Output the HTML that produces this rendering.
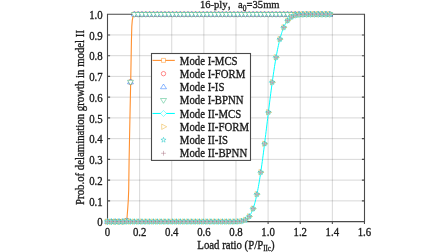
<!DOCTYPE html>
<html><head><meta charset="utf-8"><title>Prob. of delamination growth</title>
<style>html,body{margin:0;padding:0;background:#fff}svg{display:block}</style></head>
<body><svg width="448" height="252" viewBox="0 0 448 252">
<rect width="448" height="252" fill="#fff"/>
<path d="M139.62 14.20V221.60M171.74 14.20V221.60M203.86 14.20V221.60M235.98 14.20V221.60M268.10 14.20V221.60M300.22 14.20V221.60M332.34 14.20V221.60" stroke="#262626" stroke-opacity="0.18" stroke-width="1" fill="none"/>
<path d="M107.5 200.86H364.5M107.5 180.12H364.5M107.5 159.38H364.5M107.5 138.64H364.5M107.5 117.90H364.5M107.5 97.16H364.5M107.5 76.42H364.5M107.5 55.68H364.5M107.5 34.94H364.5" stroke="#262626" stroke-opacity="0.18" stroke-width="1" fill="none"/>
<path d="M107.5 14.20H364.5V221.60H107.5ZM107.50 221.60v2.3M107.50 14.20v2.4M139.62 221.60v2.3M139.62 14.20v2.4M171.74 221.60v2.3M171.74 14.20v2.4M203.86 221.60v2.3M203.86 14.20v2.4M235.98 221.60v2.3M235.98 14.20v2.4M268.10 221.60v2.3M268.10 14.20v2.4M300.22 221.60v2.3M300.22 14.20v2.4M332.34 221.60v2.3M332.34 14.20v2.4M364.46 221.60v2.3M364.46 14.20v2.4M107.5 221.60h2.6M364.5 221.60h-2.6M107.5 200.86h2.6M364.5 200.86h-2.6M107.5 180.12h2.6M364.5 180.12h-2.6M107.5 159.38h2.6M364.5 159.38h-2.6M107.5 138.64h2.6M364.5 138.64h-2.6M107.5 117.90h2.6M364.5 117.90h-2.6M107.5 97.16h2.6M364.5 97.16h-2.6M107.5 76.42h2.6M364.5 76.42h-2.6M107.5 55.68h2.6M364.5 55.68h-2.6M107.5 34.94h2.6M364.5 34.94h-2.6M107.5 14.20h2.6M364.5 14.20h-2.6" stroke="#4a4a4a" stroke-width="1.1" fill="none"/>
<path d="M107.50 221.60 L125.00 221.50 L126.20 220.20 L127.00 218.00 L127.70 209.00 L128.30 200.00 L128.70 190.00 L129.10 160.00 L129.30 150.00 L130.10 110.00 L130.70 82.00 L131.40 42.00 L131.80 26.50 L132.30 20.20 L133.10 16.30 L134.20 14.50 L135.50 14.20 L329.70 14.20" stroke="#ff8f2e" stroke-width="1.1" fill="none"/>
<g stroke="#ff8000" stroke-width="0.45" fill="#fff"><path d="M105.50 219.60h4.00v4.00h-4.00z"/><path d="M109.33 219.60h4.00v4.00h-4.00z"/><path d="M113.16 219.60h4.00v4.00h-4.00z"/><path d="M116.99 219.60h4.00v4.00h-4.00z"/><path d="M120.82 219.60h4.00v4.00h-4.00z"/><path d="M124.66 218.77h4.00v4.00h-4.00z"/><path d="M128.49 80.02h4.00v4.00h-4.00z"/><path d="M132.32 12.20h4.00v4.00h-4.00z"/><path d="M136.15 12.20h4.00v4.00h-4.00z"/><path d="M139.98 12.20h4.00v4.00h-4.00z"/><path d="M143.81 12.20h4.00v4.00h-4.00z"/><path d="M147.64 12.20h4.00v4.00h-4.00z"/><path d="M151.47 12.20h4.00v4.00h-4.00z"/><path d="M155.30 12.20h4.00v4.00h-4.00z"/><path d="M159.13 12.20h4.00v4.00h-4.00z"/><path d="M162.97 12.20h4.00v4.00h-4.00z"/><path d="M166.80 12.20h4.00v4.00h-4.00z"/><path d="M170.63 12.20h4.00v4.00h-4.00z"/><path d="M174.46 12.20h4.00v4.00h-4.00z"/><path d="M178.29 12.20h4.00v4.00h-4.00z"/><path d="M182.12 12.20h4.00v4.00h-4.00z"/><path d="M185.95 12.20h4.00v4.00h-4.00z"/><path d="M189.78 12.20h4.00v4.00h-4.00z"/><path d="M193.61 12.20h4.00v4.00h-4.00z"/><path d="M197.44 12.20h4.00v4.00h-4.00z"/><path d="M201.27 12.20h4.00v4.00h-4.00z"/><path d="M205.11 12.20h4.00v4.00h-4.00z"/><path d="M208.94 12.20h4.00v4.00h-4.00z"/><path d="M212.77 12.20h4.00v4.00h-4.00z"/><path d="M216.60 12.20h4.00v4.00h-4.00z"/><path d="M220.43 12.20h4.00v4.00h-4.00z"/><path d="M224.26 12.20h4.00v4.00h-4.00z"/><path d="M228.09 12.20h4.00v4.00h-4.00z"/><path d="M231.92 12.20h4.00v4.00h-4.00z"/><path d="M235.75 12.20h4.00v4.00h-4.00z"/><path d="M239.59 12.20h4.00v4.00h-4.00z"/><path d="M243.42 12.20h4.00v4.00h-4.00z"/><path d="M247.25 12.20h4.00v4.00h-4.00z"/><path d="M251.08 12.20h4.00v4.00h-4.00z"/><path d="M254.91 12.20h4.00v4.00h-4.00z"/><path d="M258.74 12.20h4.00v4.00h-4.00z"/><path d="M262.57 12.20h4.00v4.00h-4.00z"/><path d="M266.40 12.20h4.00v4.00h-4.00z"/><path d="M270.23 12.20h4.00v4.00h-4.00z"/><path d="M274.06 12.20h4.00v4.00h-4.00z"/><path d="M277.89 12.20h4.00v4.00h-4.00z"/><path d="M281.73 12.20h4.00v4.00h-4.00z"/><path d="M285.56 12.20h4.00v4.00h-4.00z"/><path d="M289.39 12.20h4.00v4.00h-4.00z"/><path d="M293.22 12.20h4.00v4.00h-4.00z"/><path d="M297.05 12.20h4.00v4.00h-4.00z"/><path d="M300.88 12.20h4.00v4.00h-4.00z"/><path d="M304.71 12.20h4.00v4.00h-4.00z"/><path d="M308.54 12.20h4.00v4.00h-4.00z"/><path d="M312.37 12.20h4.00v4.00h-4.00z"/><path d="M316.21 12.20h4.00v4.00h-4.00z"/><path d="M320.04 12.20h4.00v4.00h-4.00z"/><path d="M323.87 12.20h4.00v4.00h-4.00z"/><path d="M327.70 12.20h4.00v4.00h-4.00z"/></g>
<g stroke="#ff0000" stroke-width="0.45" fill="#fff"><path d="M105.30 221.60a2.2 2.2 0 1 0 4.40 0a2.2 2.2 0 1 0 -4.40 0"/><path d="M109.13 221.60a2.2 2.2 0 1 0 4.40 0a2.2 2.2 0 1 0 -4.40 0"/><path d="M112.96 221.60a2.2 2.2 0 1 0 4.40 0a2.2 2.2 0 1 0 -4.40 0"/><path d="M116.79 221.60a2.2 2.2 0 1 0 4.40 0a2.2 2.2 0 1 0 -4.40 0"/><path d="M120.62 221.60a2.2 2.2 0 1 0 4.40 0a2.2 2.2 0 1 0 -4.40 0"/><path d="M124.45 220.77a2.2 2.2 0 1 0 4.40 0a2.2 2.2 0 1 0 -4.40 0"/><path d="M128.29 82.02a2.2 2.2 0 1 0 4.40 0a2.2 2.2 0 1 0 -4.40 0"/><path d="M132.12 14.20a2.2 2.2 0 1 0 4.40 0a2.2 2.2 0 1 0 -4.40 0"/><path d="M135.95 14.20a2.2 2.2 0 1 0 4.40 0a2.2 2.2 0 1 0 -4.40 0"/><path d="M139.78 14.20a2.2 2.2 0 1 0 4.40 0a2.2 2.2 0 1 0 -4.40 0"/><path d="M143.61 14.20a2.2 2.2 0 1 0 4.40 0a2.2 2.2 0 1 0 -4.40 0"/><path d="M147.44 14.20a2.2 2.2 0 1 0 4.40 0a2.2 2.2 0 1 0 -4.40 0"/><path d="M151.27 14.20a2.2 2.2 0 1 0 4.40 0a2.2 2.2 0 1 0 -4.40 0"/><path d="M155.10 14.20a2.2 2.2 0 1 0 4.40 0a2.2 2.2 0 1 0 -4.40 0"/><path d="M158.93 14.20a2.2 2.2 0 1 0 4.40 0a2.2 2.2 0 1 0 -4.40 0"/><path d="M162.77 14.20a2.2 2.2 0 1 0 4.40 0a2.2 2.2 0 1 0 -4.40 0"/><path d="M166.60 14.20a2.2 2.2 0 1 0 4.40 0a2.2 2.2 0 1 0 -4.40 0"/><path d="M170.43 14.20a2.2 2.2 0 1 0 4.40 0a2.2 2.2 0 1 0 -4.40 0"/><path d="M174.26 14.20a2.2 2.2 0 1 0 4.40 0a2.2 2.2 0 1 0 -4.40 0"/><path d="M178.09 14.20a2.2 2.2 0 1 0 4.40 0a2.2 2.2 0 1 0 -4.40 0"/><path d="M181.92 14.20a2.2 2.2 0 1 0 4.40 0a2.2 2.2 0 1 0 -4.40 0"/><path d="M185.75 14.20a2.2 2.2 0 1 0 4.40 0a2.2 2.2 0 1 0 -4.40 0"/><path d="M189.58 14.20a2.2 2.2 0 1 0 4.40 0a2.2 2.2 0 1 0 -4.40 0"/><path d="M193.41 14.20a2.2 2.2 0 1 0 4.40 0a2.2 2.2 0 1 0 -4.40 0"/><path d="M197.24 14.20a2.2 2.2 0 1 0 4.40 0a2.2 2.2 0 1 0 -4.40 0"/><path d="M201.07 14.20a2.2 2.2 0 1 0 4.40 0a2.2 2.2 0 1 0 -4.40 0"/><path d="M204.91 14.20a2.2 2.2 0 1 0 4.40 0a2.2 2.2 0 1 0 -4.40 0"/><path d="M208.74 14.20a2.2 2.2 0 1 0 4.40 0a2.2 2.2 0 1 0 -4.40 0"/><path d="M212.57 14.20a2.2 2.2 0 1 0 4.40 0a2.2 2.2 0 1 0 -4.40 0"/><path d="M216.40 14.20a2.2 2.2 0 1 0 4.40 0a2.2 2.2 0 1 0 -4.40 0"/><path d="M220.23 14.20a2.2 2.2 0 1 0 4.40 0a2.2 2.2 0 1 0 -4.40 0"/><path d="M224.06 14.20a2.2 2.2 0 1 0 4.40 0a2.2 2.2 0 1 0 -4.40 0"/><path d="M227.89 14.20a2.2 2.2 0 1 0 4.40 0a2.2 2.2 0 1 0 -4.40 0"/><path d="M231.72 14.20a2.2 2.2 0 1 0 4.40 0a2.2 2.2 0 1 0 -4.40 0"/><path d="M235.55 14.20a2.2 2.2 0 1 0 4.40 0a2.2 2.2 0 1 0 -4.40 0"/><path d="M239.39 14.20a2.2 2.2 0 1 0 4.40 0a2.2 2.2 0 1 0 -4.40 0"/><path d="M243.22 14.20a2.2 2.2 0 1 0 4.40 0a2.2 2.2 0 1 0 -4.40 0"/><path d="M247.05 14.20a2.2 2.2 0 1 0 4.40 0a2.2 2.2 0 1 0 -4.40 0"/><path d="M250.88 14.20a2.2 2.2 0 1 0 4.40 0a2.2 2.2 0 1 0 -4.40 0"/><path d="M254.71 14.20a2.2 2.2 0 1 0 4.40 0a2.2 2.2 0 1 0 -4.40 0"/><path d="M258.54 14.20a2.2 2.2 0 1 0 4.40 0a2.2 2.2 0 1 0 -4.40 0"/><path d="M262.37 14.20a2.2 2.2 0 1 0 4.40 0a2.2 2.2 0 1 0 -4.40 0"/><path d="M266.20 14.20a2.2 2.2 0 1 0 4.40 0a2.2 2.2 0 1 0 -4.40 0"/><path d="M270.03 14.20a2.2 2.2 0 1 0 4.40 0a2.2 2.2 0 1 0 -4.40 0"/><path d="M273.86 14.20a2.2 2.2 0 1 0 4.40 0a2.2 2.2 0 1 0 -4.40 0"/><path d="M277.69 14.20a2.2 2.2 0 1 0 4.40 0a2.2 2.2 0 1 0 -4.40 0"/><path d="M281.53 14.20a2.2 2.2 0 1 0 4.40 0a2.2 2.2 0 1 0 -4.40 0"/><path d="M285.36 14.20a2.2 2.2 0 1 0 4.40 0a2.2 2.2 0 1 0 -4.40 0"/><path d="M289.19 14.20a2.2 2.2 0 1 0 4.40 0a2.2 2.2 0 1 0 -4.40 0"/><path d="M293.02 14.20a2.2 2.2 0 1 0 4.40 0a2.2 2.2 0 1 0 -4.40 0"/><path d="M296.85 14.20a2.2 2.2 0 1 0 4.40 0a2.2 2.2 0 1 0 -4.40 0"/><path d="M300.68 14.20a2.2 2.2 0 1 0 4.40 0a2.2 2.2 0 1 0 -4.40 0"/><path d="M304.51 14.20a2.2 2.2 0 1 0 4.40 0a2.2 2.2 0 1 0 -4.40 0"/><path d="M308.34 14.20a2.2 2.2 0 1 0 4.40 0a2.2 2.2 0 1 0 -4.40 0"/><path d="M312.17 14.20a2.2 2.2 0 1 0 4.40 0a2.2 2.2 0 1 0 -4.40 0"/><path d="M316.01 14.20a2.2 2.2 0 1 0 4.40 0a2.2 2.2 0 1 0 -4.40 0"/><path d="M319.84 14.20a2.2 2.2 0 1 0 4.40 0a2.2 2.2 0 1 0 -4.40 0"/><path d="M323.67 14.20a2.2 2.2 0 1 0 4.40 0a2.2 2.2 0 1 0 -4.40 0"/><path d="M327.50 14.20a2.2 2.2 0 1 0 4.40 0a2.2 2.2 0 1 0 -4.40 0"/></g>
<g stroke="#0060ff" stroke-width="0.45" fill="#fff"><path d="M107.50 218.70L110.50 223.40L104.50 223.40z"/><path d="M111.33 218.70L114.33 223.40L108.33 223.40z"/><path d="M115.16 218.70L118.16 223.40L112.16 223.40z"/><path d="M118.99 218.70L121.99 223.40L115.99 223.40z"/><path d="M122.82 218.70L125.82 223.40L119.82 223.40z"/><path d="M126.66 217.87L129.66 222.57L123.66 222.57z"/><path d="M130.49 79.12L133.49 83.82L127.49 83.82z"/><path d="M134.32 11.30L137.32 16.00L131.32 16.00z"/><path d="M138.15 11.30L141.15 16.00L135.15 16.00z"/><path d="M141.98 11.30L144.98 16.00L138.98 16.00z"/><path d="M145.81 11.30L148.81 16.00L142.81 16.00z"/><path d="M149.64 11.30L152.64 16.00L146.64 16.00z"/><path d="M153.47 11.30L156.47 16.00L150.47 16.00z"/><path d="M157.30 11.30L160.30 16.00L154.30 16.00z"/><path d="M161.13 11.30L164.13 16.00L158.13 16.00z"/><path d="M164.97 11.30L167.97 16.00L161.97 16.00z"/><path d="M168.80 11.30L171.80 16.00L165.80 16.00z"/><path d="M172.63 11.30L175.63 16.00L169.63 16.00z"/><path d="M176.46 11.30L179.46 16.00L173.46 16.00z"/><path d="M180.29 11.30L183.29 16.00L177.29 16.00z"/><path d="M184.12 11.30L187.12 16.00L181.12 16.00z"/><path d="M187.95 11.30L190.95 16.00L184.95 16.00z"/><path d="M191.78 11.30L194.78 16.00L188.78 16.00z"/><path d="M195.61 11.30L198.61 16.00L192.61 16.00z"/><path d="M199.44 11.30L202.44 16.00L196.44 16.00z"/><path d="M203.27 11.30L206.27 16.00L200.27 16.00z"/><path d="M207.11 11.30L210.11 16.00L204.11 16.00z"/><path d="M210.94 11.30L213.94 16.00L207.94 16.00z"/><path d="M214.77 11.30L217.77 16.00L211.77 16.00z"/><path d="M218.60 11.30L221.60 16.00L215.60 16.00z"/><path d="M222.43 11.30L225.43 16.00L219.43 16.00z"/><path d="M226.26 11.30L229.26 16.00L223.26 16.00z"/><path d="M230.09 11.30L233.09 16.00L227.09 16.00z"/><path d="M233.92 11.30L236.92 16.00L230.92 16.00z"/><path d="M237.75 11.30L240.75 16.00L234.75 16.00z"/><path d="M241.59 11.30L244.59 16.00L238.59 16.00z"/><path d="M245.42 11.30L248.42 16.00L242.42 16.00z"/><path d="M249.25 11.30L252.25 16.00L246.25 16.00z"/><path d="M253.08 11.30L256.08 16.00L250.08 16.00z"/><path d="M256.91 11.30L259.91 16.00L253.91 16.00z"/><path d="M260.74 11.30L263.74 16.00L257.74 16.00z"/><path d="M264.57 11.30L267.57 16.00L261.57 16.00z"/><path d="M268.40 11.30L271.40 16.00L265.40 16.00z"/><path d="M272.23 11.30L275.23 16.00L269.23 16.00z"/><path d="M276.06 11.30L279.06 16.00L273.06 16.00z"/><path d="M279.89 11.30L282.89 16.00L276.89 16.00z"/><path d="M283.73 11.30L286.73 16.00L280.73 16.00z"/><path d="M287.56 11.30L290.56 16.00L284.56 16.00z"/><path d="M291.39 11.30L294.39 16.00L288.39 16.00z"/><path d="M295.22 11.30L298.22 16.00L292.22 16.00z"/><path d="M299.05 11.30L302.05 16.00L296.05 16.00z"/><path d="M302.88 11.30L305.88 16.00L299.88 16.00z"/><path d="M306.71 11.30L309.71 16.00L303.71 16.00z"/><path d="M310.54 11.30L313.54 16.00L307.54 16.00z"/><path d="M314.37 11.30L317.37 16.00L311.37 16.00z"/><path d="M318.21 11.30L321.21 16.00L315.21 16.00z"/><path d="M322.04 11.30L325.04 16.00L319.04 16.00z"/><path d="M325.87 11.30L328.87 16.00L322.87 16.00z"/><path d="M329.70 11.30L332.70 16.00L326.70 16.00z"/></g>
<g stroke="#20b070" stroke-width="0.45" fill="#fff"><path d="M107.50 224.70L110.50 219.90L104.50 219.90z"/><path d="M111.33 224.70L114.33 219.90L108.33 219.90z"/><path d="M115.16 224.70L118.16 219.90L112.16 219.90z"/><path d="M118.99 224.70L121.99 219.90L115.99 219.90z"/><path d="M122.82 224.70L125.82 219.90L119.82 219.90z"/><path d="M126.66 223.87L129.66 219.07L123.66 219.07z"/><path d="M130.49 85.12L133.49 80.32L127.49 80.32z"/><path d="M134.32 17.30L137.32 12.50L131.32 12.50z"/><path d="M138.15 17.30L141.15 12.50L135.15 12.50z"/><path d="M141.98 17.30L144.98 12.50L138.98 12.50z"/><path d="M145.81 17.30L148.81 12.50L142.81 12.50z"/><path d="M149.64 17.30L152.64 12.50L146.64 12.50z"/><path d="M153.47 17.30L156.47 12.50L150.47 12.50z"/><path d="M157.30 17.30L160.30 12.50L154.30 12.50z"/><path d="M161.13 17.30L164.13 12.50L158.13 12.50z"/><path d="M164.97 17.30L167.97 12.50L161.97 12.50z"/><path d="M168.80 17.30L171.80 12.50L165.80 12.50z"/><path d="M172.63 17.30L175.63 12.50L169.63 12.50z"/><path d="M176.46 17.30L179.46 12.50L173.46 12.50z"/><path d="M180.29 17.30L183.29 12.50L177.29 12.50z"/><path d="M184.12 17.30L187.12 12.50L181.12 12.50z"/><path d="M187.95 17.30L190.95 12.50L184.95 12.50z"/><path d="M191.78 17.30L194.78 12.50L188.78 12.50z"/><path d="M195.61 17.30L198.61 12.50L192.61 12.50z"/><path d="M199.44 17.30L202.44 12.50L196.44 12.50z"/><path d="M203.27 17.30L206.27 12.50L200.27 12.50z"/><path d="M207.11 17.30L210.11 12.50L204.11 12.50z"/><path d="M210.94 17.30L213.94 12.50L207.94 12.50z"/><path d="M214.77 17.30L217.77 12.50L211.77 12.50z"/><path d="M218.60 17.30L221.60 12.50L215.60 12.50z"/><path d="M222.43 17.30L225.43 12.50L219.43 12.50z"/><path d="M226.26 17.30L229.26 12.50L223.26 12.50z"/><path d="M230.09 17.30L233.09 12.50L227.09 12.50z"/><path d="M233.92 17.30L236.92 12.50L230.92 12.50z"/><path d="M237.75 17.30L240.75 12.50L234.75 12.50z"/><path d="M241.59 17.30L244.59 12.50L238.59 12.50z"/><path d="M245.42 17.30L248.42 12.50L242.42 12.50z"/><path d="M249.25 17.30L252.25 12.50L246.25 12.50z"/><path d="M253.08 17.30L256.08 12.50L250.08 12.50z"/><path d="M256.91 17.30L259.91 12.50L253.91 12.50z"/><path d="M260.74 17.30L263.74 12.50L257.74 12.50z"/><path d="M264.57 17.30L267.57 12.50L261.57 12.50z"/><path d="M268.40 17.30L271.40 12.50L265.40 12.50z"/><path d="M272.23 17.30L275.23 12.50L269.23 12.50z"/><path d="M276.06 17.30L279.06 12.50L273.06 12.50z"/><path d="M279.89 17.30L282.89 12.50L276.89 12.50z"/><path d="M283.73 17.30L286.73 12.50L280.73 12.50z"/><path d="M287.56 17.30L290.56 12.50L284.56 12.50z"/><path d="M291.39 17.30L294.39 12.50L288.39 12.50z"/><path d="M295.22 17.30L298.22 12.50L292.22 12.50z"/><path d="M299.05 17.30L302.05 12.50L296.05 12.50z"/><path d="M302.88 17.30L305.88 12.50L299.88 12.50z"/><path d="M306.71 17.30L309.71 12.50L303.71 12.50z"/><path d="M310.54 17.30L313.54 12.50L307.54 12.50z"/><path d="M314.37 17.30L317.37 12.50L311.37 12.50z"/><path d="M318.21 17.30L321.21 12.50L315.21 12.50z"/><path d="M322.04 17.30L325.04 12.50L319.04 12.50z"/><path d="M325.87 17.30L328.87 12.50L322.87 12.50z"/><path d="M329.70 17.30L332.70 12.50L326.70 12.50z"/></g>
<path d="M107.50 221.60 L107.88 221.60 L108.27 221.60 L108.65 221.60 L109.03 221.60 L109.42 221.60 L109.80 221.60 L110.18 221.60 L110.56 221.60 L110.95 221.60 L111.33 221.60 L111.71 221.60 L112.10 221.60 L112.48 221.60 L112.86 221.60 L113.25 221.60 L113.63 221.60 L114.01 221.60 L114.40 221.60 L114.78 221.60 L115.16 221.60 L115.55 221.60 L115.93 221.60 L116.31 221.60 L116.69 221.60 L117.08 221.60 L117.46 221.60 L117.84 221.60 L118.23 221.60 L118.61 221.60 L118.99 221.60 L119.38 221.60 L119.76 221.60 L120.14 221.60 L120.53 221.60 L120.91 221.60 L121.29 221.60 L121.67 221.60 L122.06 221.60 L122.44 221.60 L122.82 221.60 L123.21 221.60 L123.59 221.60 L123.97 221.60 L124.36 221.60 L124.74 221.60 L125.12 221.60 L125.51 221.60 L125.89 221.60 L126.27 221.60 L126.66 221.60 L127.04 221.60 L127.42 221.60 L127.80 221.60 L128.19 221.60 L128.57 221.60 L128.95 221.60 L129.34 221.60 L129.72 221.60 L130.10 221.60 L130.49 221.60 L130.87 221.60 L131.25 221.60 L131.64 221.60 L132.02 221.60 L132.40 221.60 L132.78 221.60 L133.17 221.60 L133.55 221.60 L133.93 221.60 L134.32 221.60 L134.70 221.60 L135.08 221.60 L135.47 221.60 L135.85 221.60 L136.23 221.60 L136.62 221.60 L137.00 221.60 L137.38 221.60 L137.76 221.60 L138.15 221.60 L138.53 221.60 L138.91 221.60 L139.30 221.60 L139.68 221.60 L140.06 221.60 L140.45 221.60 L140.83 221.60 L141.21 221.60 L141.60 221.60 L141.98 221.60 L142.36 221.60 L142.75 221.60 L143.13 221.60 L143.51 221.60 L143.89 221.60 L144.28 221.60 L144.66 221.60 L145.04 221.60 L145.43 221.60 L145.81 221.60 L146.19 221.60 L146.58 221.60 L146.96 221.60 L147.34 221.60 L147.73 221.60 L148.11 221.60 L148.49 221.60 L148.87 221.60 L149.26 221.60 L149.64 221.60 L150.02 221.60 L150.41 221.60 L150.79 221.60 L151.17 221.60 L151.56 221.60 L151.94 221.60 L152.32 221.60 L152.71 221.60 L153.09 221.60 L153.47 221.60 L153.86 221.60 L154.24 221.60 L154.62 221.60 L155.00 221.60 L155.39 221.60 L155.77 221.60 L156.15 221.60 L156.54 221.60 L156.92 221.60 L157.30 221.60 L157.69 221.60 L158.07 221.60 L158.45 221.60 L158.84 221.60 L159.22 221.60 L159.60 221.60 L159.98 221.60 L160.37 221.60 L160.75 221.60 L161.13 221.60 L161.52 221.60 L161.90 221.60 L162.28 221.60 L162.67 221.60 L163.05 221.60 L163.43 221.60 L163.82 221.60 L164.20 221.60 L164.58 221.60 L164.97 221.60 L165.35 221.60 L165.73 221.60 L166.11 221.60 L166.50 221.60 L166.88 221.60 L167.26 221.60 L167.65 221.60 L168.03 221.60 L168.41 221.60 L168.80 221.60 L169.18 221.60 L169.56 221.60 L169.95 221.60 L170.33 221.60 L170.71 221.60 L171.09 221.60 L171.48 221.60 L171.86 221.60 L172.24 221.60 L172.63 221.60 L173.01 221.60 L173.39 221.60 L173.78 221.60 L174.16 221.60 L174.54 221.60 L174.93 221.60 L175.31 221.60 L175.69 221.60 L176.07 221.60 L176.46 221.60 L176.84 221.60 L177.22 221.60 L177.61 221.60 L177.99 221.60 L178.37 221.60 L178.76 221.60 L179.14 221.60 L179.52 221.60 L179.91 221.60 L180.29 221.60 L180.67 221.60 L181.06 221.60 L181.44 221.60 L181.82 221.60 L182.20 221.60 L182.59 221.60 L182.97 221.60 L183.35 221.60 L183.74 221.60 L184.12 221.60 L184.50 221.60 L184.89 221.60 L185.27 221.60 L185.65 221.60 L186.04 221.60 L186.42 221.60 L186.80 221.60 L187.18 221.60 L187.57 221.60 L187.95 221.60 L188.33 221.60 L188.72 221.60 L189.10 221.60 L189.48 221.60 L189.87 221.60 L190.25 221.60 L190.63 221.60 L191.02 221.60 L191.40 221.60 L191.78 221.60 L192.17 221.60 L192.55 221.60 L192.93 221.60 L193.31 221.60 L193.70 221.60 L194.08 221.60 L194.46 221.60 L194.85 221.60 L195.23 221.60 L195.61 221.60 L196.00 221.60 L196.38 221.60 L196.76 221.60 L197.15 221.60 L197.53 221.60 L197.91 221.60 L198.29 221.60 L198.68 221.60 L199.06 221.60 L199.44 221.60 L199.83 221.60 L200.21 221.60 L200.59 221.60 L200.98 221.60 L201.36 221.60 L201.74 221.60 L202.13 221.60 L202.51 221.60 L202.89 221.60 L203.27 221.60 L203.66 221.60 L204.04 221.60 L204.42 221.60 L204.81 221.60 L205.19 221.60 L205.57 221.60 L205.96 221.60 L206.34 221.60 L206.72 221.60 L207.11 221.60 L207.49 221.60 L207.87 221.60 L208.26 221.60 L208.64 221.60 L209.02 221.60 L209.40 221.60 L209.79 221.60 L210.17 221.60 L210.55 221.60 L210.94 221.60 L211.32 221.60 L211.70 221.60 L212.09 221.60 L212.47 221.60 L212.85 221.60 L213.24 221.60 L213.62 221.60 L214.00 221.60 L214.38 221.60 L214.77 221.60 L215.15 221.60 L215.53 221.60 L215.92 221.60 L216.30 221.60 L216.68 221.60 L217.07 221.60 L217.45 221.60 L217.83 221.60 L218.22 221.60 L218.60 221.60 L218.98 221.60 L219.37 221.60 L219.75 221.60 L220.13 221.60 L220.51 221.60 L220.90 221.60 L221.28 221.60 L221.66 221.60 L222.05 221.60 L222.43 221.60 L222.81 221.60 L223.20 221.60 L223.58 221.60 L223.96 221.60 L224.35 221.60 L224.73 221.60 L225.11 221.60 L225.49 221.60 L225.88 221.60 L226.26 221.60 L226.64 221.60 L227.03 221.60 L227.41 221.60 L227.79 221.60 L228.18 221.60 L228.56 221.60 L228.94 221.60 L229.33 221.60 L229.71 221.60 L230.09 221.60 L230.48 221.60 L230.86 221.60 L231.24 221.60 L231.62 221.60 L232.01 221.59 L232.39 221.59 L232.77 221.59 L233.16 221.59 L233.54 221.59 L233.92 221.58 L234.31 221.58 L234.69 221.58 L235.07 221.57 L235.46 221.57 L235.84 221.56 L236.22 221.55 L236.60 221.54 L236.99 221.53 L237.37 221.52 L237.75 221.51 L238.14 221.49 L238.52 221.47 L238.90 221.45 L239.29 221.42 L239.67 221.39 L240.05 221.35 L240.44 221.31 L240.82 221.26 L241.20 221.21 L241.58 221.15 L241.97 221.08 L242.35 221.00 L242.73 220.91 L243.12 220.81 L243.50 220.70 L243.88 220.58 L244.27 220.43 L244.65 220.28 L245.03 220.10 L245.42 219.91 L245.80 219.69 L246.18 219.45 L246.57 219.18 L246.95 218.89 L247.33 218.57 L247.71 218.22 L248.10 217.83 L248.48 217.41 L248.86 216.95 L249.25 216.44 L249.63 215.90 L250.01 215.31 L250.40 214.67 L250.78 213.98 L251.16 213.24 L251.55 212.45 L251.93 211.59 L252.31 210.68 L252.69 209.70 L253.08 208.66 L253.46 207.56 L253.84 206.38 L254.23 205.13 L254.61 203.82 L254.99 202.42 L255.38 200.96 L255.76 199.41 L256.14 197.79 L256.53 196.09 L256.91 194.31 L257.29 192.46 L257.68 190.52 L258.06 188.51 L258.44 186.42 L258.82 184.25 L259.21 182.00 L259.59 179.68 L259.97 177.29 L260.36 174.82 L260.74 172.29 L261.12 169.68 L261.51 167.02 L261.89 164.29 L262.27 161.50 L262.66 158.66 L263.04 155.77 L263.42 152.83 L263.80 149.85 L264.19 146.83 L264.57 143.77 L264.95 140.68 L265.34 137.57 L265.72 134.43 L266.10 131.28 L266.49 128.11 L266.87 124.94 L267.25 121.77 L267.64 118.59 L268.02 115.43 L268.40 112.27 L268.79 109.13 L269.17 106.01 L269.55 102.92 L269.93 99.85 L270.32 96.81 L270.70 93.82 L271.08 90.86 L271.47 87.94 L271.85 85.08 L272.23 82.26 L272.62 79.49 L273.00 76.78 L273.38 74.13 L273.77 71.54 L274.15 69.01 L274.53 66.54 L274.91 64.14 L275.30 61.81 L275.68 59.54 L276.06 57.34 L276.45 55.21 L276.83 53.15 L277.21 51.16 L277.60 49.24 L277.98 47.39 L278.36 45.61 L278.75 43.90 L279.13 42.25 L279.51 40.67 L279.89 39.16 L280.28 37.71 L280.66 36.33 L281.04 35.01 L281.43 33.75 L281.81 32.55 L282.19 31.40 L282.58 30.32 L282.96 29.29 L283.34 28.31 L283.73 27.39 L284.11 26.51 L284.49 25.68 L284.88 24.90 L285.26 24.17 L285.64 23.47 L286.02 22.82 L286.41 22.20 L286.79 21.63 L287.17 21.08 L287.56 20.58 L287.94 20.10 L288.32 19.66 L288.71 19.24 L289.09 18.86 L289.47 18.49 L289.86 18.16 L290.24 17.84 L290.62 17.55 L291.00 17.28 L291.39 17.03 L291.77 16.80 L292.15 16.58 L292.54 16.38 L292.92 16.20 L293.30 16.03 L293.69 15.87 L294.07 15.73 L294.45 15.59 L294.84 15.47 L295.22 15.36 L295.60 15.25 L295.99 15.16 L296.37 15.07 L296.75 14.99 L297.13 14.92 L297.52 14.85 L297.90 14.79 L298.28 14.74 L298.67 14.68 L299.05 14.64 L299.43 14.60 L299.82 14.56 L300.20 14.52 L300.58 14.49 L300.97 14.46 L301.35 14.44 L301.73 14.41 L302.11 14.39 L302.50 14.37 L302.88 14.35 L303.26 14.34 L303.65 14.32 L304.03 14.31 L304.41 14.30 L304.80 14.29 L305.18 14.28 L305.56 14.27 L305.95 14.26 L306.33 14.26 L306.71 14.25 L307.10 14.24 L307.48 14.24 L307.86 14.24 L308.24 14.23 L308.63 14.23 L309.01 14.22 L309.39 14.22 L309.78 14.22 L310.16 14.22 L310.54 14.22 L310.93 14.21 L311.31 14.21 L311.69 14.21 L312.08 14.21 L312.46 14.21 L312.84 14.21 L313.22 14.21 L313.61 14.21 L313.99 14.20 L314.37 14.20 L314.76 14.20 L315.14 14.20 L315.52 14.20 L315.91 14.20 L316.29 14.20 L316.67 14.20 L317.06 14.20 L317.44 14.20 L317.82 14.20 L318.20 14.20 L318.59 14.20 L318.97 14.20 L319.35 14.20 L319.74 14.20 L320.12 14.20 L320.50 14.20 L320.89 14.20 L321.27 14.20 L321.65 14.20 L322.04 14.20 L322.42 14.20 L322.80 14.20 L323.19 14.20 L323.57 14.20 L323.95 14.20 L324.33 14.20 L324.72 14.20 L325.10 14.20 L325.48 14.20 L325.87 14.20 L326.25 14.20 L326.63 14.20 L327.02 14.20 L327.40 14.20 L327.78 14.20 L328.17 14.20 L328.55 14.20 L328.93 14.20 L329.31 14.20 L329.70 14.20" stroke="#00ffff" stroke-width="1" fill="none"/>
<g stroke="#00ffff" stroke-width="0.45" fill="#fff"><path d="M107.50 218.60L110.50 221.60L107.50 224.60L104.50 221.60z"/><path d="M111.33 218.60L114.33 221.60L111.33 224.60L108.33 221.60z"/><path d="M115.16 218.60L118.16 221.60L115.16 224.60L112.16 221.60z"/><path d="M118.99 218.60L121.99 221.60L118.99 224.60L115.99 221.60z"/><path d="M122.82 218.60L125.82 221.60L122.82 224.60L119.82 221.60z"/><path d="M126.66 218.60L129.66 221.60L126.66 224.60L123.66 221.60z"/><path d="M130.49 218.60L133.49 221.60L130.49 224.60L127.49 221.60z"/><path d="M134.32 218.60L137.32 221.60L134.32 224.60L131.32 221.60z"/><path d="M138.15 218.60L141.15 221.60L138.15 224.60L135.15 221.60z"/><path d="M141.98 218.60L144.98 221.60L141.98 224.60L138.98 221.60z"/><path d="M145.81 218.60L148.81 221.60L145.81 224.60L142.81 221.60z"/><path d="M149.64 218.60L152.64 221.60L149.64 224.60L146.64 221.60z"/><path d="M153.47 218.60L156.47 221.60L153.47 224.60L150.47 221.60z"/><path d="M157.30 218.60L160.30 221.60L157.30 224.60L154.30 221.60z"/><path d="M161.13 218.60L164.13 221.60L161.13 224.60L158.13 221.60z"/><path d="M164.97 218.60L167.97 221.60L164.97 224.60L161.97 221.60z"/><path d="M168.80 218.60L171.80 221.60L168.80 224.60L165.80 221.60z"/><path d="M172.63 218.60L175.63 221.60L172.63 224.60L169.63 221.60z"/><path d="M176.46 218.60L179.46 221.60L176.46 224.60L173.46 221.60z"/><path d="M180.29 218.60L183.29 221.60L180.29 224.60L177.29 221.60z"/><path d="M184.12 218.60L187.12 221.60L184.12 224.60L181.12 221.60z"/><path d="M187.95 218.60L190.95 221.60L187.95 224.60L184.95 221.60z"/><path d="M191.78 218.60L194.78 221.60L191.78 224.60L188.78 221.60z"/><path d="M195.61 218.60L198.61 221.60L195.61 224.60L192.61 221.60z"/><path d="M199.44 218.60L202.44 221.60L199.44 224.60L196.44 221.60z"/><path d="M203.27 218.60L206.27 221.60L203.27 224.60L200.27 221.60z"/><path d="M207.11 218.60L210.11 221.60L207.11 224.60L204.11 221.60z"/><path d="M210.94 218.60L213.94 221.60L210.94 224.60L207.94 221.60z"/><path d="M214.77 218.60L217.77 221.60L214.77 224.60L211.77 221.60z"/><path d="M218.60 218.60L221.60 221.60L218.60 224.60L215.60 221.60z"/><path d="M222.43 218.60L225.43 221.60L222.43 224.60L219.43 221.60z"/><path d="M226.26 218.60L229.26 221.60L226.26 224.60L223.26 221.60z"/><path d="M230.09 218.60L233.09 221.60L230.09 224.60L227.09 221.60z"/><path d="M233.92 218.58L236.92 221.58L233.92 224.58L230.92 221.58z"/><path d="M237.75 218.51L240.75 221.51L237.75 224.51L234.75 221.51z"/><path d="M241.59 218.15L244.59 221.15L241.59 224.15L238.59 221.15z"/><path d="M245.42 216.91L248.42 219.91L245.42 222.91L242.42 219.91z"/><path d="M249.25 213.44L252.25 216.44L249.25 219.44L246.25 216.44z"/><path d="M253.08 205.66L256.08 208.66L253.08 211.66L250.08 208.66z"/><path d="M256.91 191.31L259.91 194.31L256.91 197.31L253.91 194.31z"/><path d="M260.74 169.29L263.74 172.29L260.74 175.29L257.74 172.29z"/><path d="M264.57 140.77L267.57 143.77L264.57 146.77L261.57 143.77z"/><path d="M268.40 109.27L271.40 112.27L268.40 115.27L265.40 112.27z"/><path d="M272.23 79.26L275.23 82.26L272.23 85.26L269.23 82.26z"/><path d="M276.06 54.34L279.06 57.34L276.06 60.34L273.06 57.34z"/><path d="M279.89 36.16L282.89 39.16L279.89 42.16L276.89 39.16z"/><path d="M283.73 24.39L286.73 27.39L283.73 30.39L280.73 27.39z"/><path d="M287.56 17.58L290.56 20.58L287.56 23.58L284.56 20.58z"/><path d="M291.39 14.03L294.39 17.03L291.39 20.03L288.39 17.03z"/><path d="M295.22 12.36L298.22 15.36L295.22 18.36L292.22 15.36z"/><path d="M299.05 11.64L302.05 14.64L299.05 17.64L296.05 14.64z"/><path d="M302.88 11.35L305.88 14.35L302.88 17.35L299.88 14.35z"/><path d="M306.71 11.25L309.71 14.25L306.71 17.25L303.71 14.25z"/><path d="M310.54 11.22L313.54 14.22L310.54 17.22L307.54 14.22z"/><path d="M314.37 11.20L317.37 14.20L314.37 17.20L311.37 14.20z"/><path d="M318.21 11.20L321.21 14.20L318.21 17.20L315.21 14.20z"/><path d="M322.04 11.20L325.04 14.20L322.04 17.20L319.04 14.20z"/><path d="M325.87 11.20L328.87 14.20L325.87 17.20L322.87 14.20z"/><path d="M329.70 11.20L332.70 14.20L329.70 17.20L326.70 14.20z"/></g>
<g stroke="#e8a820" stroke-width="0.45" fill="#fff"><path d="M110.70 221.60L105.70 218.90L105.70 224.30z"/><path d="M114.53 221.60L109.53 218.90L109.53 224.30z"/><path d="M118.36 221.60L113.36 218.90L113.36 224.30z"/><path d="M122.19 221.60L117.19 218.90L117.19 224.30z"/><path d="M126.02 221.60L121.02 218.90L121.02 224.30z"/><path d="M129.85 221.60L124.86 218.90L124.86 224.30z"/><path d="M133.69 221.60L128.69 218.90L128.69 224.30z"/><path d="M137.52 221.60L132.52 218.90L132.52 224.30z"/><path d="M141.35 221.60L136.35 218.90L136.35 224.30z"/><path d="M145.18 221.60L140.18 218.90L140.18 224.30z"/><path d="M149.01 221.60L144.01 218.90L144.01 224.30z"/><path d="M152.84 221.60L147.84 218.90L147.84 224.30z"/><path d="M156.67 221.60L151.67 218.90L151.67 224.30z"/><path d="M160.50 221.60L155.50 218.90L155.50 224.30z"/><path d="M164.33 221.60L159.33 218.90L159.33 224.30z"/><path d="M168.16 221.60L163.16 218.90L163.16 224.30z"/><path d="M172.00 221.60L167.00 218.90L167.00 224.30z"/><path d="M175.83 221.60L170.83 218.90L170.83 224.30z"/><path d="M179.66 221.60L174.66 218.90L174.66 224.30z"/><path d="M183.49 221.60L178.49 218.90L178.49 224.30z"/><path d="M187.32 221.60L182.32 218.90L182.32 224.30z"/><path d="M191.15 221.60L186.15 218.90L186.15 224.30z"/><path d="M194.98 221.60L189.98 218.90L189.98 224.30z"/><path d="M198.81 221.60L193.81 218.90L193.81 224.30z"/><path d="M202.64 221.60L197.64 218.90L197.64 224.30z"/><path d="M206.47 221.60L201.47 218.90L201.47 224.30z"/><path d="M210.31 221.60L205.31 218.90L205.31 224.30z"/><path d="M214.14 221.60L209.14 218.90L209.14 224.30z"/><path d="M217.97 221.60L212.97 218.90L212.97 224.30z"/><path d="M221.80 221.60L216.80 218.90L216.80 224.30z"/><path d="M225.63 221.60L220.63 218.90L220.63 224.30z"/><path d="M229.46 221.60L224.46 218.90L224.46 224.30z"/><path d="M233.29 221.60L228.29 218.90L228.29 224.30z"/><path d="M237.12 221.58L232.12 218.88L232.12 224.28z"/><path d="M240.95 221.51L235.95 218.81L235.95 224.21z"/><path d="M244.78 221.15L239.78 218.45L239.78 223.85z"/><path d="M248.62 219.91L243.62 217.21L243.62 222.61z"/><path d="M252.45 216.44L247.45 213.74L247.45 219.14z"/><path d="M256.28 208.66L251.28 205.96L251.28 211.36z"/><path d="M260.11 194.31L255.11 191.61L255.11 197.01z"/><path d="M263.94 172.29L258.94 169.59L258.94 174.99z"/><path d="M267.77 143.77L262.77 141.07L262.77 146.47z"/><path d="M271.60 112.27L266.60 109.57L266.60 114.97z"/><path d="M275.43 82.26L270.43 79.56L270.43 84.96z"/><path d="M279.26 57.34L274.26 54.64L274.26 60.04z"/><path d="M283.09 39.16L278.09 36.46L278.09 41.86z"/><path d="M286.93 27.39L281.93 24.69L281.93 30.09z"/><path d="M290.76 20.58L285.76 17.88L285.76 23.28z"/><path d="M294.59 17.03L289.59 14.33L289.59 19.73z"/><path d="M298.42 15.36L293.42 12.66L293.42 18.06z"/><path d="M302.25 14.64L297.25 11.94L297.25 17.34z"/><path d="M306.08 14.35L301.08 11.65L301.08 17.05z"/><path d="M309.91 14.25L304.91 11.55L304.91 16.95z"/><path d="M313.74 14.22L308.74 11.52L308.74 16.92z"/><path d="M317.57 14.20L312.57 11.50L312.57 16.90z"/><path d="M321.41 14.20L316.41 11.50L316.41 16.90z"/><path d="M325.24 14.20L320.24 11.50L320.24 16.90z"/><path d="M329.07 14.20L324.07 11.50L324.07 16.90z"/><path d="M332.90 14.20L327.90 11.50L327.90 16.90z"/></g>
<g stroke="#00c0c0" stroke-width="0.45" fill="#fff"><path d="M107.50 218.90L108.11 220.77L110.07 220.77L108.48 221.92L109.09 223.78L107.50 222.63L105.91 223.78L106.52 221.92L104.93 220.77L106.89 220.77z"/><path d="M111.33 218.90L111.94 220.77L113.90 220.77L112.31 221.92L112.92 223.78L111.33 222.63L109.74 223.78L110.35 221.92L108.76 220.77L110.72 220.77z"/><path d="M115.16 218.90L115.77 220.77L117.73 220.77L116.14 221.92L116.75 223.78L115.16 222.63L113.57 223.78L114.18 221.92L112.59 220.77L114.56 220.77z"/><path d="M118.99 218.90L119.60 220.77L121.56 220.77L119.97 221.92L120.58 223.78L118.99 222.63L117.41 223.78L118.01 221.92L116.43 220.77L118.39 220.77z"/><path d="M122.82 218.90L123.43 220.77L125.39 220.77L123.80 221.92L124.41 223.78L122.82 222.63L121.24 223.78L121.84 221.92L120.26 220.77L122.22 220.77z"/><path d="M126.66 218.90L127.26 220.77L129.22 220.77L127.64 221.92L128.24 223.78L126.66 222.63L125.07 223.78L125.67 221.92L124.09 220.77L126.05 220.77z"/><path d="M130.49 218.90L131.09 220.77L133.05 220.77L131.47 221.92L132.07 223.78L130.49 222.63L128.90 223.78L129.51 221.92L127.92 220.77L129.88 220.77z"/><path d="M134.32 218.90L134.92 220.77L136.88 220.77L135.30 221.92L135.90 223.78L134.32 222.63L132.73 223.78L133.34 221.92L131.75 220.77L133.71 220.77z"/><path d="M138.15 218.90L138.75 220.77L140.72 220.77L139.13 221.92L139.74 223.78L138.15 222.63L136.56 223.78L137.17 221.92L135.58 220.77L137.54 220.77z"/><path d="M141.98 218.90L142.59 220.77L144.55 220.77L142.96 221.92L143.57 223.78L141.98 222.63L140.39 223.78L141.00 221.92L139.41 220.77L141.37 220.77z"/><path d="M145.81 218.90L146.42 220.77L148.38 220.77L146.79 221.92L147.40 223.78L145.81 222.63L144.22 223.78L144.83 221.92L143.24 220.77L145.20 220.77z"/><path d="M149.64 218.90L150.25 220.77L152.21 220.77L150.62 221.92L151.23 223.78L149.64 222.63L148.05 223.78L148.66 221.92L147.07 220.77L149.03 220.77z"/><path d="M153.47 218.90L154.08 220.77L156.04 220.77L154.45 221.92L155.06 223.78L153.47 222.63L151.88 223.78L152.49 221.92L150.90 220.77L152.87 220.77z"/><path d="M157.30 218.90L157.91 220.77L159.87 220.77L158.28 221.92L158.89 223.78L157.30 222.63L155.72 223.78L156.32 221.92L154.74 220.77L156.70 220.77z"/><path d="M161.13 218.90L161.74 220.77L163.70 220.77L162.11 221.92L162.72 223.78L161.13 222.63L159.55 223.78L160.15 221.92L158.57 220.77L160.53 220.77z"/><path d="M164.97 218.90L165.57 220.77L167.53 220.77L165.95 221.92L166.55 223.78L164.97 222.63L163.38 223.78L163.98 221.92L162.40 220.77L164.36 220.77z"/><path d="M168.80 218.90L169.40 220.77L171.36 220.77L169.78 221.92L170.38 223.78L168.80 222.63L167.21 223.78L167.82 221.92L166.23 220.77L168.19 220.77z"/><path d="M172.63 218.90L173.23 220.77L175.19 220.77L173.61 221.92L174.21 223.78L172.63 222.63L171.04 223.78L171.65 221.92L170.06 220.77L172.02 220.77z"/><path d="M176.46 218.90L177.06 220.77L179.03 220.77L177.44 221.92L178.05 223.78L176.46 222.63L174.87 223.78L175.48 221.92L173.89 220.77L175.85 220.77z"/><path d="M180.29 218.90L180.90 220.77L182.86 220.77L181.27 221.92L181.88 223.78L180.29 222.63L178.70 223.78L179.31 221.92L177.72 220.77L179.68 220.77z"/><path d="M184.12 218.90L184.73 220.77L186.69 220.77L185.10 221.92L185.71 223.78L184.12 222.63L182.53 223.78L183.14 221.92L181.55 220.77L183.51 220.77z"/><path d="M187.95 218.90L188.56 220.77L190.52 220.77L188.93 221.92L189.54 223.78L187.95 222.63L186.36 223.78L186.97 221.92L185.38 220.77L187.34 220.77z"/><path d="M191.78 218.90L192.39 220.77L194.35 220.77L192.76 221.92L193.37 223.78L191.78 222.63L190.19 223.78L190.80 221.92L189.21 220.77L191.18 220.77z"/><path d="M195.61 218.90L196.22 220.77L198.18 220.77L196.59 221.92L197.20 223.78L195.61 222.63L194.03 223.78L194.63 221.92L193.05 220.77L195.01 220.77z"/><path d="M199.44 218.90L200.05 220.77L202.01 220.77L200.42 221.92L201.03 223.78L199.44 222.63L197.86 223.78L198.46 221.92L196.88 220.77L198.84 220.77z"/><path d="M203.27 218.90L203.88 220.77L205.84 220.77L204.26 221.92L204.86 223.78L203.27 222.63L201.69 223.78L202.29 221.92L200.71 220.77L202.67 220.77z"/><path d="M207.11 218.90L207.71 220.77L209.67 220.77L208.09 221.92L208.69 223.78L207.11 222.63L205.52 223.78L206.13 221.92L204.54 220.77L206.50 220.77z"/><path d="M210.94 218.90L211.54 220.77L213.50 220.77L211.92 221.92L212.52 223.78L210.94 222.63L209.35 223.78L209.96 221.92L208.37 220.77L210.33 220.77z"/><path d="M214.77 218.90L215.37 220.77L217.34 220.77L215.75 221.92L216.36 223.78L214.77 222.63L213.18 223.78L213.79 221.92L212.20 220.77L214.16 220.77z"/><path d="M218.60 218.90L219.21 220.77L221.17 220.77L219.58 221.92L220.19 223.78L218.60 222.63L217.01 223.78L217.62 221.92L216.03 220.77L217.99 220.77z"/><path d="M222.43 218.90L223.04 220.77L225.00 220.77L223.41 221.92L224.02 223.78L222.43 222.63L220.84 223.78L221.45 221.92L219.86 220.77L221.82 220.77z"/><path d="M226.26 218.90L226.87 220.77L228.83 220.77L227.24 221.92L227.85 223.78L226.26 222.63L224.67 223.78L225.28 221.92L223.69 220.77L225.65 220.77z"/><path d="M230.09 218.90L230.70 220.76L232.66 220.76L231.07 221.92L231.68 223.78L230.09 222.63L228.50 223.78L229.11 221.92L227.52 220.76L229.49 220.76z"/><path d="M233.92 218.88L234.53 220.75L236.49 220.75L234.90 221.90L235.51 223.77L233.92 222.62L232.34 223.77L232.94 221.90L231.36 220.75L233.32 220.75z"/><path d="M237.75 218.81L238.36 220.67L240.32 220.67L238.73 221.82L239.34 223.69L237.75 222.54L236.17 223.69L236.77 221.82L235.19 220.67L237.15 220.67z"/><path d="M241.59 218.45L242.19 220.32L244.15 220.32L242.57 221.47L243.17 223.33L241.59 222.18L240.00 223.33L240.60 221.47L239.02 220.32L240.98 220.32z"/><path d="M245.42 217.21L246.02 219.07L247.98 219.07L246.40 220.22L247.00 222.09L245.42 220.94L243.83 222.09L244.44 220.22L242.85 219.07L244.81 219.07z"/><path d="M249.25 213.74L249.85 215.61L251.81 215.61L250.23 216.76L250.83 218.63L249.25 217.48L247.66 218.63L248.27 216.76L246.68 215.61L248.64 215.61z"/><path d="M253.08 205.96L253.68 207.83L255.65 207.83L254.06 208.98L254.67 210.85L253.08 209.69L251.49 210.85L252.10 208.98L250.51 207.83L252.47 207.83z"/><path d="M256.91 191.61L257.52 193.48L259.48 193.48L257.89 194.63L258.50 196.50L256.91 195.35L255.32 196.50L255.93 194.63L254.34 193.48L256.30 193.48z"/><path d="M260.74 169.59L261.35 171.45L263.31 171.45L261.72 172.60L262.33 174.47L260.74 173.32L259.15 174.47L259.76 172.60L258.17 171.45L260.13 171.45z"/><path d="M264.57 141.07L265.18 142.93L267.14 142.93L265.55 144.09L266.16 145.95L264.57 144.80L262.98 145.95L263.59 144.09L262.00 142.93L263.96 142.93z"/><path d="M268.40 109.57L269.01 111.44L270.97 111.44L269.38 112.59L269.99 114.45L268.40 113.30L266.81 114.45L267.42 112.59L265.83 111.44L267.80 111.44z"/><path d="M272.23 79.56L272.84 81.42L274.80 81.42L273.21 82.58L273.82 84.44L272.23 83.29L270.65 84.44L271.25 82.58L269.67 81.42L271.63 81.42z"/><path d="M276.06 54.64L276.67 56.51L278.63 56.51L277.04 57.66L277.65 59.53L276.06 58.38L274.48 59.53L275.08 57.66L273.50 56.51L275.46 56.51z"/><path d="M279.89 36.46L280.50 38.32L282.46 38.32L280.88 39.48L281.48 41.34L279.89 40.19L278.31 41.34L278.91 39.48L277.33 38.32L279.29 38.32z"/><path d="M283.73 24.69L284.33 26.55L286.29 26.55L284.71 27.71L285.31 29.57L283.73 28.42L282.14 29.57L282.75 27.71L281.16 26.55L283.12 26.55z"/><path d="M287.56 17.88L288.16 19.74L290.12 19.74L288.54 20.90L289.14 22.76L287.56 21.61L285.97 22.76L286.58 20.90L284.99 19.74L286.95 19.74z"/><path d="M291.39 14.33L291.99 16.20L293.96 16.20L292.37 17.35L292.98 19.22L291.39 18.06L289.80 19.22L290.41 17.35L288.82 16.20L290.78 16.20z"/><path d="M295.22 12.66L295.83 14.52L297.79 14.52L296.20 15.68L296.81 17.54L295.22 16.39L293.63 17.54L294.24 15.68L292.65 14.52L294.61 14.52z"/><path d="M299.05 11.94L299.66 13.80L301.62 13.80L300.03 14.96L300.64 16.82L299.05 15.67L297.46 16.82L298.07 14.96L296.48 13.80L298.44 13.80z"/><path d="M302.88 11.65L303.49 13.52L305.45 13.52L303.86 14.67L304.47 16.54L302.88 15.39L301.29 16.54L301.90 14.67L300.31 13.52L302.27 13.52z"/><path d="M306.71 11.55L307.32 13.42L309.28 13.42L307.69 14.57L308.30 16.43L306.71 15.28L305.12 16.43L305.73 14.57L304.14 13.42L306.11 13.42z"/><path d="M310.54 11.52L311.15 13.38L313.11 13.38L311.52 14.53L312.13 16.40L310.54 15.25L308.96 16.40L309.56 14.53L307.98 13.38L309.94 13.38z"/><path d="M314.37 11.50L314.98 13.37L316.94 13.37L315.35 14.52L315.96 16.39L314.37 15.24L312.79 16.39L313.39 14.52L311.81 13.37L313.77 13.37z"/><path d="M318.21 11.50L318.81 13.37L320.77 13.37L319.19 14.52L319.79 16.39L318.21 15.23L316.62 16.39L317.22 14.52L315.64 13.37L317.60 13.37z"/><path d="M322.04 11.50L322.64 13.37L324.60 13.37L323.02 14.52L323.62 16.38L322.04 15.23L320.45 16.38L321.06 14.52L319.47 13.37L321.43 13.37z"/><path d="M325.87 11.50L326.47 13.37L328.43 13.37L326.85 14.52L327.45 16.38L325.87 15.23L324.28 16.38L324.89 14.52L323.30 13.37L325.26 13.37z"/><path d="M329.70 11.50L330.30 13.37L332.27 13.37L330.68 14.52L331.29 16.38L329.70 15.23L328.11 16.38L328.72 14.52L327.13 13.37L329.09 13.37z"/></g>
<g stroke="#a06878" stroke-width="0.45" fill="none"><path d="M105.10 221.60h4.80M107.50 219.20v4.80"/><path d="M108.93 221.60h4.80M111.33 219.20v4.80"/><path d="M112.76 221.60h4.80M115.16 219.20v4.80"/><path d="M116.59 221.60h4.80M118.99 219.20v4.80"/><path d="M120.42 221.60h4.80M122.82 219.20v4.80"/><path d="M124.25 221.60h4.80M126.66 219.20v4.80"/><path d="M128.09 221.60h4.80M130.49 219.20v4.80"/><path d="M131.92 221.60h4.80M134.32 219.20v4.80"/><path d="M135.75 221.60h4.80M138.15 219.20v4.80"/><path d="M139.58 221.60h4.80M141.98 219.20v4.80"/><path d="M143.41 221.60h4.80M145.81 219.20v4.80"/><path d="M147.24 221.60h4.80M149.64 219.20v4.80"/><path d="M151.07 221.60h4.80M153.47 219.20v4.80"/><path d="M154.90 221.60h4.80M157.30 219.20v4.80"/><path d="M158.73 221.60h4.80M161.13 219.20v4.80"/><path d="M162.56 221.60h4.80M164.97 219.20v4.80"/><path d="M166.40 221.60h4.80M168.80 219.20v4.80"/><path d="M170.23 221.60h4.80M172.63 219.20v4.80"/><path d="M174.06 221.60h4.80M176.46 219.20v4.80"/><path d="M177.89 221.60h4.80M180.29 219.20v4.80"/><path d="M181.72 221.60h4.80M184.12 219.20v4.80"/><path d="M185.55 221.60h4.80M187.95 219.20v4.80"/><path d="M189.38 221.60h4.80M191.78 219.20v4.80"/><path d="M193.21 221.60h4.80M195.61 219.20v4.80"/><path d="M197.04 221.60h4.80M199.44 219.20v4.80"/><path d="M200.87 221.60h4.80M203.27 219.20v4.80"/><path d="M204.71 221.60h4.80M207.11 219.20v4.80"/><path d="M208.54 221.60h4.80M210.94 219.20v4.80"/><path d="M212.37 221.60h4.80M214.77 219.20v4.80"/><path d="M216.20 221.60h4.80M218.60 219.20v4.80"/><path d="M220.03 221.60h4.80M222.43 219.20v4.80"/><path d="M223.86 221.60h4.80M226.26 219.20v4.80"/><path d="M227.69 221.60h4.80M230.09 219.20v4.80"/><path d="M231.52 221.58h4.80M233.92 219.18v4.80"/><path d="M235.35 221.51h4.80M237.75 219.11v4.80"/><path d="M239.19 221.15h4.80M241.59 218.75v4.80"/><path d="M243.02 219.91h4.80M245.42 217.51v4.80"/><path d="M246.85 216.44h4.80M249.25 214.04v4.80"/><path d="M250.68 208.66h4.80M253.08 206.26v4.80"/><path d="M254.51 194.31h4.80M256.91 191.91v4.80"/><path d="M258.34 172.29h4.80M260.74 169.89v4.80"/><path d="M262.17 143.77h4.80M264.57 141.37v4.80"/><path d="M266.00 112.27h4.80M268.40 109.87v4.80"/><path d="M269.83 82.26h4.80M272.23 79.86v4.80"/><path d="M273.66 57.34h4.80M276.06 54.94v4.80"/><path d="M277.50 39.16h4.80M279.89 36.76v4.80"/><path d="M281.33 27.39h4.80M283.73 24.99v4.80"/><path d="M285.16 20.58h4.80M287.56 18.18v4.80"/><path d="M288.99 17.03h4.80M291.39 14.63v4.80"/><path d="M292.82 15.36h4.80M295.22 12.96v4.80"/><path d="M296.65 14.64h4.80M299.05 12.24v4.80"/><path d="M300.48 14.35h4.80M302.88 11.95v4.80"/><path d="M304.31 14.25h4.80M306.71 11.85v4.80"/><path d="M308.14 14.22h4.80M310.54 11.82v4.80"/><path d="M311.97 14.20h4.80M314.37 11.80v4.80"/><path d="M315.81 14.20h4.80M318.21 11.80v4.80"/><path d="M319.64 14.20h4.80M322.04 11.80v4.80"/><path d="M323.47 14.20h4.80M325.87 11.80v4.80"/><path d="M327.30 14.20h4.80M329.70 11.80v4.80"/></g>
<g font-family='"Liberation Serif","Times New Roman",serif' font-size="10.8" fill="#1a1a1a" stroke="#1a1a1a" stroke-width="0.3"><text transform="translate(107.50 236.1) scale(1 1.06)" text-anchor="middle">0</text><text transform="translate(139.62 236.1) scale(1 1.06)" text-anchor="middle">0.2</text><text transform="translate(171.74 236.1) scale(1 1.06)" text-anchor="middle">0.4</text><text transform="translate(203.86 236.1) scale(1 1.06)" text-anchor="middle">0.6</text><text transform="translate(235.98 236.1) scale(1 1.06)" text-anchor="middle">0.8</text><text transform="translate(268.10 236.1) scale(1 1.06)" text-anchor="middle">1.0</text><text transform="translate(300.22 236.1) scale(1 1.06)" text-anchor="middle">1.2</text><text transform="translate(332.34 236.1) scale(1 1.06)" text-anchor="middle">1.4</text><text transform="translate(364.46 236.1) scale(1 1.06)" text-anchor="middle">1.6</text><text transform="translate(102.7 226.40) scale(1 1.06)" text-anchor="end">0</text><text transform="translate(102.7 205.66) scale(1 1.06)" text-anchor="end">0.1</text><text transform="translate(102.7 184.92) scale(1 1.06)" text-anchor="end">0.2</text><text transform="translate(102.7 164.18) scale(1 1.06)" text-anchor="end">0.3</text><text transform="translate(102.7 143.44) scale(1 1.06)" text-anchor="end">0.4</text><text transform="translate(102.7 122.70) scale(1 1.06)" text-anchor="end">0.5</text><text transform="translate(102.7 101.96) scale(1 1.06)" text-anchor="end">0.6</text><text transform="translate(102.7 81.22) scale(1 1.06)" text-anchor="end">0.7</text><text transform="translate(102.7 60.48) scale(1 1.06)" text-anchor="end">0.8</text><text transform="translate(102.7 39.74) scale(1 1.06)" text-anchor="end">0.9</text><text transform="translate(102.7 19.00) scale(1 1.06)" text-anchor="end">1.0</text></g>
<text transform="translate(199.9 7.9) scale(1 1.06)" font-family='"Liberation Serif","Noto Serif CJK SC",serif' font-size="10.6" fill="#1a1a1a" stroke="#1a1a1a" stroke-width="0.3">16-ply，a<tspan font-size="7.5" dy="2.9">0</tspan><tspan dy="-2.9">=35mm</tspan></text>
<text transform="translate(197.3 248.6) scale(1 1.06)" font-family='"Liberation Serif","Times New Roman",serif' font-size="10.8" fill="#1a1a1a" stroke="#1a1a1a" stroke-width="0.3">Load ratio (P/P<tspan font-size="7" dy="2">IIc</tspan><tspan dy="-2">)</tspan></text>
<text transform="translate(84.0 117.45) rotate(-90) scale(1 1.06)" text-anchor="middle" font-family='"Liberation Serif","Times New Roman",serif' font-size="10.8" fill="#1a1a1a" stroke="#1a1a1a" stroke-width="0.3">Prob.of delamination growth in model II</text>
<rect x="151.5" y="53.5" width="99.0" height="106.9" fill="#fff" stroke="#4a4a4a" stroke-width="1.1"/>
<path d="M152.5 60.40H174.8" stroke="#ff8f2e" stroke-width="1.1"/>
<path d="M161.50 58.40h4.00v4.00h-4.00z" stroke="#ff8000" stroke-width="0.45" fill="#fff"/>
<path d="M161.30 73.67a2.2 2.2 0 1 0 4.40 0a2.2 2.2 0 1 0 -4.40 0" stroke="#ff0000" stroke-width="0.45" fill="#fff"/>
<path d="M163.50 84.04L166.50 88.74L160.50 88.74z" stroke="#0060ff" stroke-width="0.45" fill="#fff"/>
<path d="M163.50 103.31L166.50 98.51L160.50 98.51z" stroke="#20b070" stroke-width="0.45" fill="#fff"/>
<path d="M152.5 113.48H174.8" stroke="#00ffff" stroke-width="1.1"/>
<path d="M163.50 110.48L166.50 113.48L163.50 116.48L160.50 113.48z" stroke="#00ffff" stroke-width="0.45" fill="#fff"/>
<path d="M166.70 126.75L161.70 124.05L161.70 129.45z" stroke="#e8a820" stroke-width="0.45" fill="#fff"/>
<path d="M163.50 137.32L164.11 139.19L166.07 139.19L164.48 140.34L165.09 142.20L163.50 141.05L161.91 142.20L162.52 140.34L160.93 139.19L162.89 139.19z" stroke="#00c0c0" stroke-width="0.45" fill="#fff"/>
<path d="M161.10 153.29h4.80M163.50 150.89v4.80" stroke="#a06878" stroke-width="0.45" fill="none"/>
<g font-family='"Liberation Serif","Times New Roman",serif' font-size="10.8" fill="#1a1a1a" stroke="#1a1a1a" stroke-width="0.3"><text transform="translate(179.8 64.60) scale(1 1.06)">Mode I-MCS</text><text transform="translate(179.8 77.87) scale(1 1.06)">Mode I-FORM</text><text transform="translate(179.8 91.14) scale(1 1.06)">Mode I-IS</text><text transform="translate(179.8 104.41) scale(1 1.06)">Mode I-BPNN</text><text transform="translate(179.8 117.68) scale(1 1.06)">Mode II-MCS</text><text transform="translate(179.8 130.95) scale(1 1.06)">Mode II-FORM</text><text transform="translate(179.8 144.22) scale(1 1.06)">Mode II-IS</text><text transform="translate(179.8 157.49) scale(1 1.06)">Mode II-BPNN</text></g>
</svg></body></html>
